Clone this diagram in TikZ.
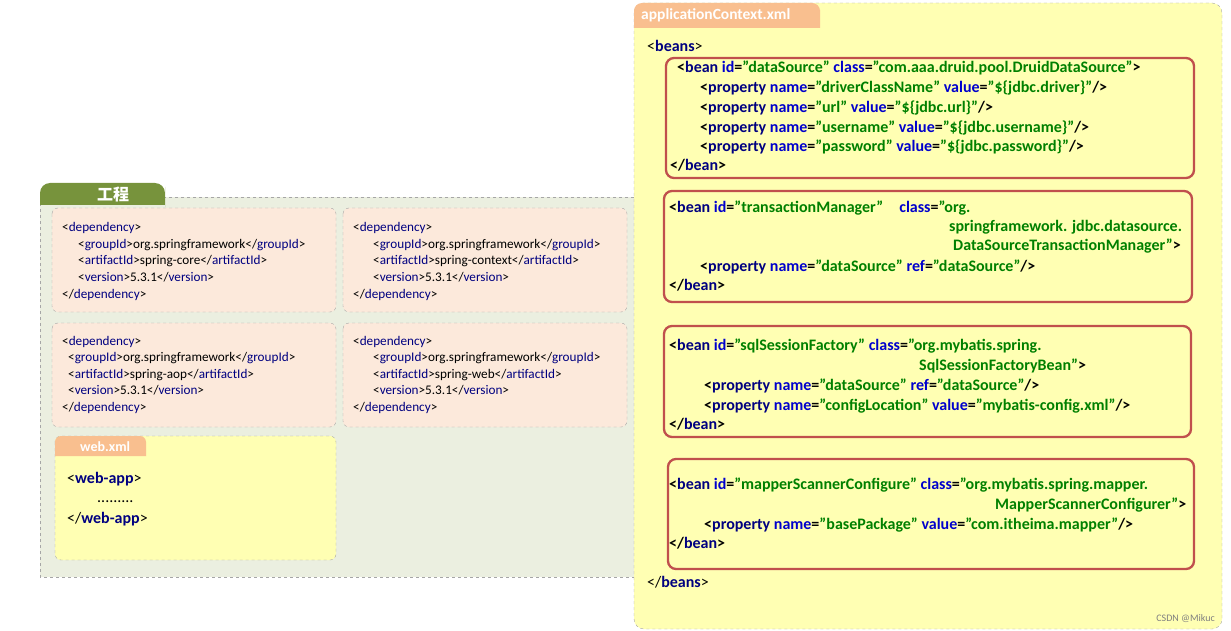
\documentclass[tikz,border=0pt]{standalone}
\usepackage{fontspec}
\setmainfont{Carlito}
\newfontfamily\cjk{Noto Sans CJK SC}
\usetikzlibrary{positioning}
\definecolor{tagc}{HTML}{000080}
\definecolor{attc}{HTML}{0000CC}
\definecolor{valc}{HTML}{008000}
\definecolor{redc}{HTML}{C0504D}
\definecolor{grnc}{HTML}{77933C}
\definecolor{orgc}{HTML}{F9BF8F}
\definecolor{yelc}{HTML}{FFFFB3}
\definecolor{pnkc}{HTML}{FCE9DB}
\definecolor{bgc}{HTML}{EBEFE0}
\newcommand{\qq}{\symbol{34}}
\newcommand{\tg}[1]{\textcolor{tagc}{\bfseries #1}}
\newcommand{\at}[1]{\textcolor{attc}{\bfseries #1}}
\newcommand{\vl}[1]{\textcolor{valc}{\bfseries\qq#1\qq}}
\newcommand{\vo}[1]{\textcolor{valc}{\bfseries #1}}
\newcommand{\tgl}[1]{\textcolor{tagc}{#1}}
\begin{document}
\begin{tikzpicture}[x=1pt,y=-1pt,
  dbox/.style={draw=gray!70,dashed,rounded corners=6pt},
  redbox/.style={draw=redc,line width=2.3pt,rounded corners=8pt},
  lt/.style={anchor=base west,inner sep=0pt,font=\fontsize{13.2}{15}\selectfont},
  rt/.style={anchor=base west,inner sep=0pt,font=\fontsize{16}{18}\selectfont\bfseries},
  wt/.style={anchor=base west,inner sep=0pt,font=\fontsize{16}{18}\selectfont}]
\useasboundingbox (0,0) rectangle (1231,631);
% left panel
\draw[dbox,fill=bgc,rounded corners=0pt] (40,197) rectangle (635,577);
\fill[grnc,rounded corners=10pt] (40,205) -- (40,183) -- (165,183) -- (165,197) [sharp corners] -- (165,205) -- cycle;
\node[anchor=center,text=white,font=\cjk\bfseries\fontsize{16}{18}\selectfont] (gc) at (113,194) {工程};
\foreach \n/\x/\y in {d1/52/208,d2/343/208,d3/52/323,d4/343/323}
  \draw[dbox,fill=pnkc] (\x,\y) rectangle ++(284,104) node[pos=0] (\n) {};
\node[lt] (a1) at (62,231) {<\tgl{dependency}>};
\node[lt] (a2) at (78,248) {<\tgl{groupId}>org.springframework</\tgl{groupId}>};
\node[lt] (a3) at (78,264) {<\tgl{artifactId}>spring-core</\tgl{artifactId}>};
\node[lt] (a4) at (78,281) {<\tgl{version}>5.3.1</\tgl{version}>};
\node[lt] (a5) at (62,298) {</\tgl{dependency}>};
\node[lt] (b1) at (353,231) {<\tgl{dependency}>};
\node[lt] (b2) at (373,248) {<\tgl{groupId}>org.springframework</\tgl{groupId}>};
\node[lt] (b3) at (373,264) {<\tgl{artifactId}>spring-context</\tgl{artifactId}>};
\node[lt] (b4) at (373,281) {<\tgl{version}>5.3.1</\tgl{version}>};
\node[lt] (b5) at (353,298) {</\tgl{dependency}>};
\node[lt] (c1) at (62,345) {<\tgl{dependency}>};
\node[lt] (c2) at (68,361) {<\tgl{groupId}>org.springframework</\tgl{groupId}>};
\node[lt] (c3) at (68,378) {<\tgl{artifactId}>spring-aop</\tgl{artifactId}>};
\node[lt] (c4) at (68,394) {<\tgl{version}>5.3.1</\tgl{version}>};
\node[lt] (c5) at (62,411) {</\tgl{dependency}>};
\node[lt] (e1) at (353,345) {<\tgl{dependency}>};
\node[lt] (e2) at (373,361) {<\tgl{groupId}>org.springframework</\tgl{groupId}>};
\node[lt] (e3) at (373,378) {<\tgl{artifactId}>spring-web</\tgl{artifactId}>};
\node[lt] (e4) at (373,394) {<\tgl{version}>5.3.1</\tgl{version}>};
\node[lt] (e5) at (353,411) {</\tgl{dependency}>};
% web.xml
\draw[dbox,fill=yelc] (55,436) rectangle (336,560);
\fill[orgc,rounded corners=6pt] (55,456) -- (55,436) -- (146,436) -- (146,450) [sharp corners] -- (146,456) -- cycle;
\node[anchor=base west,inner sep=0pt,text=white,font=\bfseries\fontsize{14}{16}\selectfont] (wx) at (80,451) {web.xml};
\node[wt] (w1) at (67,483) {<\tg{web-app}>};
\node[wt] (w2) at (97,502) {.........};
\node[wt] (w3) at (67,523) {</\tg{web-app}>};
% right panel
\draw[dbox,fill=yelc,rounded corners=10pt] (634,3) rectangle (1222,629);
\fill[orgc,rounded corners=8pt] (634,28) -- (634,3) -- (820,3) -- (820,18) [sharp corners] -- (820,28) -- cycle;
\node[anchor=base west,inner sep=0pt,text=white,font=\bfseries\fontsize{15.5}{17}\selectfont] (ax) at (641,20) {applicationContext.xml};
\draw[redbox] (666,58) rectangle (1194,178);
\draw[redbox] (664,191) rectangle (1192,302);
\draw[redbox] (664,326) rectangle (1191,437);
\draw[redbox] (668,459) rectangle (1194,569);
\node[wt] (r0) at (647,52) {<\tg{beans}>};
\node[rt] (r1) at (677,73) {<\tg{bean} \at{id}=\vl{dataSource} \at{class}=\vl{com.aaa.druid.pool.DruidDataSource}>};
\node[rt] (r2) at (700,93) {<\tg{property} \at{name}=\vl{driverClassName} \at{value}=\vl{\$\{jdbc.driver\}}/>};
\node[rt] (r3) at (700,113) {<\tg{property} \at{name}=\vl{url} \at{value}=\vl{\$\{jdbc.url\}}/>};
\node[rt] (r4) at (700,133) {<\tg{property} \at{name}=\vl{username} \at{value}=\vl{\$\{jdbc.username\}}/>};
\node[rt] (r5) at (700,152) {<\tg{property} \at{name}=\vl{password} \at{value}=\vl{\$\{jdbc.password\}}/>};
\node[rt] (r6) at (670,171) {</\tg{bean}>};
\node[rt] (s1) at (669,212) {<\tg{bean} \at{id}=\vl{transactionManager}\quad \at{class}=\vo{\qq org.}};
\node[rt] (s2) at (949,232) {\vo{springframework. jdbc.datasource.}};
\node[rt] (s3) at (953,251) {\vo{DataSourceTransactionManager\qq}>};
\node[rt] (s4) at (700,271) {<\tg{property} \at{name}=\vl{dataSource} \at{ref}=\vl{dataSource}/>};
\node[rt] (s5) at (669,290) {</\tg{bean}>};
\node[rt] (t1) at (669,350) {<\tg{bean} \at{id}=\vl{sqlSessionFactory} \at{class}=\vo{\qq org.mybatis.spring.}};
\node[rt] (t2) at (919,370) {\vo{SqlSessionFactoryBean\qq}>};
\node[rt] (t3) at (704,390) {<\tg{property} \at{name}=\vl{dataSource} \at{ref}=\vl{dataSource}/>};
\node[rt] (t4) at (704,410) {<\tg{property} \at{name}=\vl{configLocation} \at{value}=\vl{mybatis-config.xml}/>};
\node[rt] (t5) at (669,429) {</\tg{bean}>};
\node[rt] (u1) at (669,489) {<\tg{bean} \at{id}=\vl{mapperScannerConfigure} \at{class}=\vo{\qq org.mybatis.spring.mapper.}};
\node[rt] (u2) at (995,509) {\vo{MapperScannerConfigurer\qq}>};
\node[rt] (u3) at (704,529) {<\tg{property} \at{name}=\vl{basePackage} \at{value}=\vl{com.itheima.mapper}/>};
\node[rt] (u4) at (669,548) {</\tg{bean}>};
\node[wt] (r9) at (647,587) {</\tg{beans}>};
\node[anchor=base east,inner sep=0pt,text=gray,font=\fontsize{10}{11}\selectfont] (cs) at (1215,621) {CSDN @Mikuc};
\end{tikzpicture}
\end{document}
